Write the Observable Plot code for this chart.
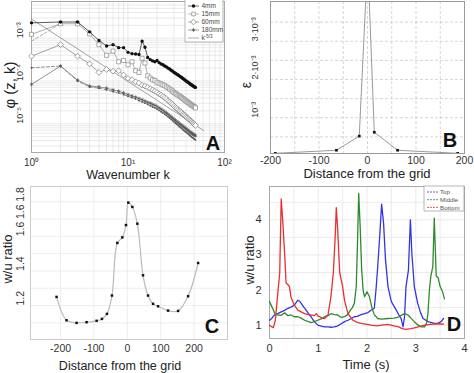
<!DOCTYPE html>
<html><head><meta charset="utf-8">
<script src="https://cdn.jsdelivr.net/npm/d3@7"></script>
<script src="https://cdn.jsdelivr.net/npm/@observablehq/plot@0.6"></script>
<style>
html,body{margin:0;padding:0;background:#fff;}
#root{position:relative;width:474px;height:373px;overflow:hidden;background:#fff;font-family:"Liberation Sans",Arial,sans-serif;}
.p{position:absolute;}
.lab{position:absolute;white-space:nowrap;line-height:1;color:#222;}
</style></head><body><div id="root"></div>
<script>
// ---------------- DATA ----------------
// Panel A: spectra phi(z,k), values given as log10(phi) at wavenumbers k = 1..50
const kValues = d3.range(1, 51);
const phi4mm = [-2.64,-2.62,-2.62,-2.85,-3.05,-3.18,-3.15,-3.22,-3.22,-3.33,-3.36,-3.37,-3.38,-3.07,-3.21,-3.45,-3.50,-3.53,-3.55,-3.52,
  -3.57,-3.60,-3.62,-3.65,-3.67,-3.70,-3.72,-3.75,-3.77,-3.80,-3.82,-3.84,-3.86,-3.88,-3.90,-3.92,-3.94,-3.96,-3.98,-4.00,
  -4.02,-4.03,-4.05,-4.07,-4.08,-4.10,-4.11,-4.13,-4.14,-4.15];
const phi15mm = [-2.91,-2.66,-2.66,-2.90,-3.15,-3.40,-3.30,-3.55,-3.52,-3.62,-3.55,-3.76,-3.80,-3.47,-3.58,-3.88,-3.93,-3.97,-3.99,-4.03,
  -4.05,-4.07,-4.09,-4.11,-4.14,-4.16,-4.19,-4.21,-4.24,-4.27,-4.29,-4.31,-4.33,-4.35,-4.37,-4.39,-4.41,-4.43,-4.45,-4.47,
  -4.49,-4.50,-4.52,-4.54,-4.55,-4.57,-4.58,-4.60,-4.61,-4.63];
const phi60mm = [-3.42,-3.15,-3.42,-3.60,-3.80,-3.73,-3.77,-3.76,-3.86,-3.94,-3.97,-4.02,-4.05,-4.10,-4.12,-4.15,-4.18,-4.21,-4.24,-4.27,
  -4.30,-4.33,-4.36,-4.39,-4.42,-4.46,-4.49,-4.52,-4.55,-4.59,-4.62,-4.64,-4.67,-4.70,-4.72,-4.74,-4.77,-4.79,-4.81,-4.84,
  -4.86,-4.88,-4.90,-4.92,-4.94,-4.96,-4.98,-5.00,-5.02,-5.04];
const phi180mm = [-4.08,-3.65,-3.98,-4.12,-4.14,-4.17,-4.21,-4.24,-4.28,-4.32,-4.35,-4.38,-4.41,-4.44,-4.47,-4.50,-4.52,-4.55,-4.57,-4.60,
  -4.63,-4.66,-4.69,-4.72,-4.75,-4.78,-4.81,-4.84,-4.87,-4.90,-4.92,-4.95,-4.97,-5.00,-5.02,-5.04,-5.06,-5.08,-5.10,-5.12,
  -5.14,-5.16,-5.18,-5.20,-5.21,-5.23,-5.24,-5.26,-5.27,-5.28];
const phiExtra = [-3.69,-3.65,-4.00,-4.14,-4.17,-4.21,-4.25,-4.28,-4.32,-4.36,-4.39,-4.42,-4.46,-4.49,-4.52,-4.55,-4.58,-4.61,-4.63,-4.66,
  -4.69,-4.72,-4.75,-4.78,-4.81,-4.84,-4.87,-4.90,-4.93,-4.96,-4.99,-5.01,-5.04,-5.07,-5.09,-5.11,-5.14,-5.16,-5.18,-5.20,
  -5.22,-5.24,-5.26,-5.28,-5.30,-5.32,-5.33,-5.35,-5.36,-5.38];
const alt15mmStart = -3.07;            // dashed start value at k = 1
const refLineK = [1, 61];              // k^-5/3 reference line
const refLineLog = [-2.55, -5.16];
const xTicksA = [1, 10, 100];
const xTickLabelsA = ["10\u2070", "10\u00b9", "10\u00b2"];
const yTicksA = [1e-3, 1e-4, 1e-5];
const yTickLabelsA = ["10\u207b\u00b3", "10\u207b\u2074", "10\u207b\u2075"];
const legendNamesA = ["4mm", "15mm", "60mm", "180mm"];

// Panel B: dissipation vs distance from grid
const distB = [-190, -64, -17, -3.5, 3.5, 14, 62, 186];
const epsB = [0.00007, 0.00015, 0.00052, 0.0041, 0.0041, 0.00062, 0.00015, 0.00007];
const xTicksB = [-200, -100, 0, 100, 200];
const yTicksB = [0.001, 0.002, 0.003];
const yTickLabelsB = ["10\u207b\u00b3", "2\u00b710\u207b\u00b3", "3\u00b710\u207b\u00b3"];

// Panel C: w/u ratio vs distance from grid
const distC = [-212,-182,-152,-122,-92,-76,-61,-46,-30,-15,-4,3,15,30,47,62,77,92,122,152,182,212];
const ratioC = [1.25,1.115,1.10,1.104,1.112,1.123,1.152,1.258,1.562,1.594,1.665,1.795,1.77,1.673,1.375,1.258,1.21,1.196,1.171,1.169,1.254,1.446];
const xTicksC = [-200, -100, 0, 100, 200];
const yTicksC = [1.2, 1.4, 1.6, 1.7, 1.8];
const yTickLabelsC = ["1.2", "1.4", "1.6", "1.6", "1.8"];

// Panel D: w/u ratio time series
const timeTop = [0,0.05,0.1,0.17,0.24,0.31,0.38,0.45,0.51,0.55,0.58,0.62,0.65,0.7,0.75,0.8,0.85,0.92,0.99,1.06,1.13,1.2,1.26,1.33,1.4,1.47,1.54,1.61,1.68,1.74,1.8,1.88,1.95,2.02,2.09,2.15,2.19,2.22,2.26,2.3,2.34,2.38,2.43,2.5,2.55,2.6,2.65,2.7,2.74,2.77,2.8,2.85,2.89,2.92,2.97,3.04,3.1,3.15,3.25,3.38,3.45,3.52,3.57];
const ratioTop = [1.14,1.2,1.29,1.33,1.38,1.42,1.48,1.52,1.57,1.65,1.71,1.68,1.62,1.52,1.43,1.33,1.24,1.1,1.0,0.97,0.95,0.95,0.94,0.95,0.98,1.04,1.1,1.14,1.19,1.24,1.25,1.3,1.33,1.36,1.43,1.48,2.1,2.67,3.52,4.45,3.9,2.86,2.1,1.67,1.55,1.43,1.3,1.19,0.95,1.24,2.1,2.57,4.0,3.05,2.1,1.62,1.35,1.19,1.1,1.05,1.05,1.1,1.19];
const timeMiddle = [0,0.04,0.08,0.12,0.17,0.24,0.31,0.38,0.44,0.51,0.58,0.65,0.72,0.8,0.85,0.92,0.99,1.06,1.13,1.2,1.26,1.33,1.4,1.47,1.54,1.6,1.66,1.7,1.74,1.78,1.81,1.83,1.86,1.89,1.92,1.95,2.0,2.05,2.1,2.15,2.22,2.3,2.43,2.55,2.63,2.7,2.77,2.84,2.9,2.97,3.05,3.11,3.18,3.22,3.25,3.28,3.31,3.35,3.38,3.42,3.46,3.5,3.55,3.59];
const ratioMiddle = [1.67,1.55,1.43,1.3,1.29,1.28,1.35,1.27,1.29,1.24,1.24,1.2,1.14,1.1,1.07,1.1,1.14,1.18,1.24,1.27,1.33,1.3,1.29,1.22,1.24,1.3,1.43,1.5,1.62,2.1,3.6,4.75,3.8,2.6,2.0,1.81,1.95,1.81,1.5,1.3,1.19,1.17,1.19,1.2,1.22,1.28,1.33,1.29,1.2,1.1,1.0,0.95,0.95,1.05,1.33,2.0,2.4,2.67,4.05,2.4,2.35,2.1,1.95,1.75];
const timeBottom = [0,0.05,0.08,0.12,0.17,0.21,0.24,0.27,0.31,0.34,0.38,0.41,0.44,0.51,0.58,0.65,0.72,0.8,0.85,0.92,0.96,1.0,1.03,1.08,1.13,1.2,1.26,1.31,1.35,1.37,1.4,1.44,1.47,1.5,1.54,1.61,1.71,1.8,1.88,2.0,2.09,2.2,2.3,2.43,2.55,2.65,2.72,2.8,2.9,2.97,3.05,3.18,3.3,3.45,3.57];
const ratioBottom = [1.0,0.95,0.93,1.14,1.9,2.5,4.6,4.0,3.05,2.2,2.15,2.1,1.8,1.57,1.43,1.38,1.33,1.3,1.29,1.27,1.33,1.25,1.24,1.2,1.19,1.29,1.81,2.5,3.6,4.35,3.7,2.5,2.3,2.1,1.7,1.33,1.14,1.08,1.05,1.02,1.0,0.98,1.0,1.02,0.98,0.95,0.9,0.88,0.9,0.92,0.95,1.0,1.02,1.04,1.03];
const legendNamesD = ["Top", "Middle", "Bottom"];
const xTicksD = [0, 1, 2, 3, 4];
const yTicksD = [1, 2, 3, 4];

// ---------------- BUILD ----------------
const FONT = '"Liberation Sans", Arial, sans-serif';
const root = document.getElementById("root");
function place(el, left, top) {
  el.classList.add("p"); el.style.left = left + "px"; el.style.top = top + "px"; root.appendChild(el);
}
function label(text, x, y, size, rot = 0, weight = 400, color = "#222") {
  const d = document.createElement("div");
  d.className = "lab"; d.textContent = text;
  d.style.left = x + "px"; d.style.top = y + "px"; d.style.fontSize = size + "px";
  d.style.fontWeight = weight; d.style.color = color;
  d.style.transform = `translate(-50%,-50%) rotate(${rot}deg)`;
  root.appendChild(d);
}
const baseStyle = {fontFamily: FONT, background: "transparent", overflow: "visible", color: "#333"};

// ---- Panel A ----
const seriesA = [
  {name: "4mm", logs: phi4mm, symbol: "circle", fill: "#111", stroke: "none", r: 1.7, line: "#333"},
  {name: "15mm", logs: phi15mm, symbol: "square", fill: "white", stroke: "#888", r: 2.3, line: "#999"},
  {name: "60mm", logs: phi60mm, symbol: "diamond2", fill: "white", stroke: "#777", r: 2.6, line: "#888"},
  {name: "180mm", logs: phi180mm, symbol: "asterisk", fill: "none", stroke: "#555", r: 1.8, line: "#777"}
];
const rowsOf = logs => kValues.map((k, i) => ({k, phi: 10 ** logs[i]}));
const gridKA = [1,2,3,4,5,6,7,8,9,10,20,30,40,50,60,70,80,90,100];
const gridPhiA = [];
for (let e = -6; e <= -3; e++) for (let m = 1; m <= 9; m++) gridPhiA.push(m * 10 ** e);
const extraRows = rowsOf(phiExtra);
const altRows = [{k: 1, phi: 10 ** alt15mmStart}, {k: 2, phi: 10 ** phi15mm[1]}];
const refRows = refLineK.map((k, i) => ({k, phi: 10 ** refLineLog[i]}));

const marksA = [
  Plot.ruleX(gridKA, {stroke: "#dcdcdc", strokeWidth: 0.6}),
  Plot.ruleY(gridPhiA.filter(v => v > 2.2e-6 && v < 7e-3), {stroke: "#dcdcdc", strokeWidth: 0.6}),
  Plot.frame({stroke: "#aaa"}),
  Plot.line(refRows, {x: "k", y: "phi", stroke: "#999", strokeWidth: 0.9, clip: true}),
  Plot.line(altRows, {x: "k", y: "phi", stroke: "#999", strokeWidth: 0.8, strokeDasharray: "3,2"}),
  Plot.line(extraRows, {x: "k", y: "phi", stroke: "#777", strokeWidth: 0.8, strokeDasharray: "3,2"}),
  Plot.dot(extraRows, {x: "k", y: "phi", r: 0.9, fill: "#555"})
];
seriesA.slice().reverse().forEach(s => {
  const rows = rowsOf(s.logs);
  marksA.push(Plot.line(rows, {x: "k", y: "phi", stroke: s.line, strokeWidth: 0.8}));
  marksA.push(Plot.dot(rows, {x: "k", y: "phi", symbol: () => s.symbol, r: s.r, fill: s.fill, stroke: s.stroke, strokeWidth: 0.7}));
});
marksA.push(Plot.axisX({ticks: xTicksA, tickFormat: d => xTickLabelsA[xTicksA.indexOf(d)], tickSize: 0, tickPadding: 6, fontSize: 10, label: null}));
marksA.push(Plot.text(yTicksA, {y: d => d, text: (d, i) => yTickLabelsA[i], frameAnchor: "left", dx: -11, rotate: -90, fontSize: 9, fill: "#333"}));

const plotA = Plot.plot({
  width: 237, height: 186, marginLeft: 31, marginRight: 13, marginTop: 1, marginBottom: 34,
  x: {type: "log", domain: [1, 100]},
  y: {type: "log", domain: [10 ** -5.674, 10 ** -2.14], axis: null},
  symbol: {type: "identity"},
  style: baseStyle,
  marks: marksA
});
place(plotA, 0, 0);

// ---- Panel B ----
const rowsB = distB.map((x, i) => ({x, e: epsB[i]}));
const plotB = Plot.plot({
  width: 237, height: 186, marginLeft: 33, marginRight: 10, marginTop: 1, marginBottom: 33,
  x: {domain: [-200, 200]},
  y: {domain: [0.000065, 0.00404], axis: null},
  style: baseStyle,
  marks: [
    Plot.ruleX([-150, -100, -50, 0, 50, 100, 150], {stroke: "#bbb", strokeWidth: 0.6, strokeDasharray: "3,2"}),
    Plot.ruleY([0.0005, 0.001, 0.0015, 0.002, 0.0025, 0.003, 0.0035], {stroke: "#bbb", strokeWidth: 0.6, strokeDasharray: "3,2"}),
    Plot.frame({stroke: "#999"}),
    Plot.line(rowsB, {x: "x", y: "e", stroke: "#999", strokeWidth: 1, clip: true}),
    Plot.dot(rowsB, {x: "x", y: "e", symbol: "square", r: 1.5, fill: "#111", clip: true}),
    Plot.axisX({ticks: xTicksB, tickFormat: d => String(d), tickSize: 0, tickPadding: 3, fontSize: 10.5, label: null}),
    Plot.text(yTicksB, {y: d => d, text: (d, i) => yTickLabelsB[i], frameAnchor: "left", dx: -15, rotate: -90, fontSize: 9, fill: "#333"})
  ]
});
place(plotB, 237, 0);

// ---- Panel C ----
const rowsC = distC.map((x, i) => ({x, r: ratioC[i]}));
const plotC = Plot.plot({
  width: 237, height: 187, marginLeft: 30, marginRight: 10, marginTop: 0, marginBottom: 34,
  x: {domain: [-290, 300]},
  y: {domain: [1.004, 1.888], axis: null},
  style: baseStyle,
  marks: [
    Plot.ruleX([-200, -100, 0, 100, 200], {stroke: "#e6e6e6", strokeWidth: 0.7}),
    Plot.ruleY([1.1, 1.2, 1.3, 1.4, 1.5, 1.6, 1.7, 1.8], {stroke: "#e6e6e6", strokeWidth: 0.7}),
    Plot.frame({stroke: "#ccc"}),
    Plot.line(rowsC, {x: "x", y: "r", stroke: "#bbb", strokeWidth: 1.2, curve: "catmull-rom"}),
    Plot.dot(rowsC, {x: "x", y: "r", symbol: "square", r: 1.4, fill: "#111"}),
    Plot.axisX({ticks: xTicksC, tickFormat: d => String(d), tickSize: 0, tickPadding: 5, fontSize: 10.5, label: null}),
    Plot.text(yTicksC, {y: d => d, text: (d, i) => yTickLabelsC[i], frameAnchor: "left", dx: -10, rotate: -90, fontSize: 10.5, fill: "#333"})
  ]
});
place(plotC, 0, 186);

// ---- Panel D ----
const colorsD = ["#3535e0", "#2e8a2e", "#e83030"];
const rowsD = [
  ...timeTop.map((t, i) => ({t, r: ratioTop[i], s: "Top"})),
  ...timeMiddle.map((t, i) => ({t, r: ratioMiddle[i], s: "Middle"})),
  ...timeBottom.map((t, i) => ({t, r: ratioBottom[i], s: "Bottom"}))
];
const plotD = Plot.plot({
  width: 237, height: 187, marginLeft: 32, marginRight: 10, marginTop: 0, marginBottom: 35,
  x: {domain: [0, 4]},
  y: {domain: [0.62, 4.95]},
  color: {domain: legendNamesD, range: colorsD},
  style: baseStyle,
  marks: [
    Plot.ruleX([0.5, 1, 1.5, 2, 2.5, 3, 3.5], {stroke: "#e2e2e2", strokeWidth: 0.7}),
    Plot.ruleY([1, 1.5, 2, 2.5, 3, 3.5, 4, 4.5], {stroke: "#e2e2e2", strokeWidth: 0.7}),
    Plot.frame({stroke: "#aaa"}),
    Plot.line(rowsD, {x: "t", y: "r", z: "s", stroke: "s", strokeWidth: 1.3}),
    Plot.axisX({ticks: xTicksD, tickFormat: d => String(d), tickSize: 0, tickPadding: 6, fontSize: 11, label: null}),
    Plot.axisY({ticks: yTicksD, tickFormat: d => String(d), tickSize: 0, tickPadding: 8, fontSize: 11, label: null})
  ]
});
place(plotD, 237, 186);

// ---- Legends (overlay) ----
const ov = d3.select(root).append("svg").attr("width", 474).attr("height", 373)
  .style("position", "absolute").style("left", "0px").style("top", "0px").style("pointer-events", "none")
  .style("font-family", FONT);
// Legend A
ov.append("rect").attr("x", 185).attr("y", -1).attr("width", 38).attr("height", 43).attr("fill", "white").attr("stroke", "#999").attr("stroke-width", 0.7);
const symMap = {circle: d3.symbolCircle, square: d3.symbolSquare2, diamond2: d3.symbolDiamond2, asterisk: d3.symbolAsterisk};
seriesA.forEach((s, i) => {
  const y = 6 + 8 * i;
  ov.append("line").attr("x1", 188).attr("x2", 199).attr("y1", y).attr("y2", y).attr("stroke", s.line).attr("stroke-width", 0.7);
  ov.append("path").attr("d", d3.symbol(symMap[s.symbol], Math.PI * s.r * s.r)()).attr("transform", `translate(193.5,${y})`)
    .attr("fill", s.fill).attr("stroke", s.stroke).attr("stroke-width", 0.7);
  ov.append("text").attr("x", 201.5).attr("y", y).attr("dy", "0.35em").attr("font-size", 6.5).attr("fill", "#444").text(legendNamesA[i]);
});
ov.append("line").attr("x1", 188).attr("x2", 199).attr("y1", 38).attr("y2", 38).attr("stroke", "#999").attr("stroke-width", 0.8);
const kt = ov.append("text").attr("x", 201.5).attr("y", 38).attr("dy", "0.35em").attr("font-size", 6.5).attr("fill", "#444");
kt.append("tspan").text("k");
kt.append("tspan").attr("dy", "-0.45em").attr("font-size", 4.5).text("-5/3");
// Legend D
ov.append("rect").attr("x", 424).attr("y", 186).attr("width", 40).attr("height", 25).attr("fill", "white").attr("stroke", "#999").attr("stroke-width", 0.7);
legendNamesD.forEach((n, i) => {
  const y = 192 + 7.7 * i;
  ov.append("line").attr("x1", 427).attr("x2", 438).attr("y1", y).attr("y2", y).attr("stroke", colorsD[i]).attr("stroke-width", 0.8).attr("stroke-dasharray", "2,1");
  ov.append("text").attr("x", 440).attr("y", y).attr("dy", "0.35em").attr("font-size", 6.2).attr("fill", "#555").text(n);
});

// ---- Axis titles and panel letters ----
label("\u03c6 (z, k)", 9, 85, 15, -90);
label("Wavenumber k", 128, 175, 12.5);
label("A", 213, 143, 20, 0, 700, "#111");
label("\u03b5", 246, 85, 14, -90);
label("Distance from the grid", 367, 173, 13);
label("B", 450, 140, 20, 0, 700, "#111");
label("w/u ratio", 7, 259, 13, -90);
label("Distance from the grid", 120, 366, 12.5);
label("C", 212, 326, 20, 0, 700, "#111");
label("w/u ratio", 249, 260, 13, -90);
label("Time (s)", 366, 364, 13);
label("D", 454, 324, 20, 0, 700, "#111");
</script></body></html>
